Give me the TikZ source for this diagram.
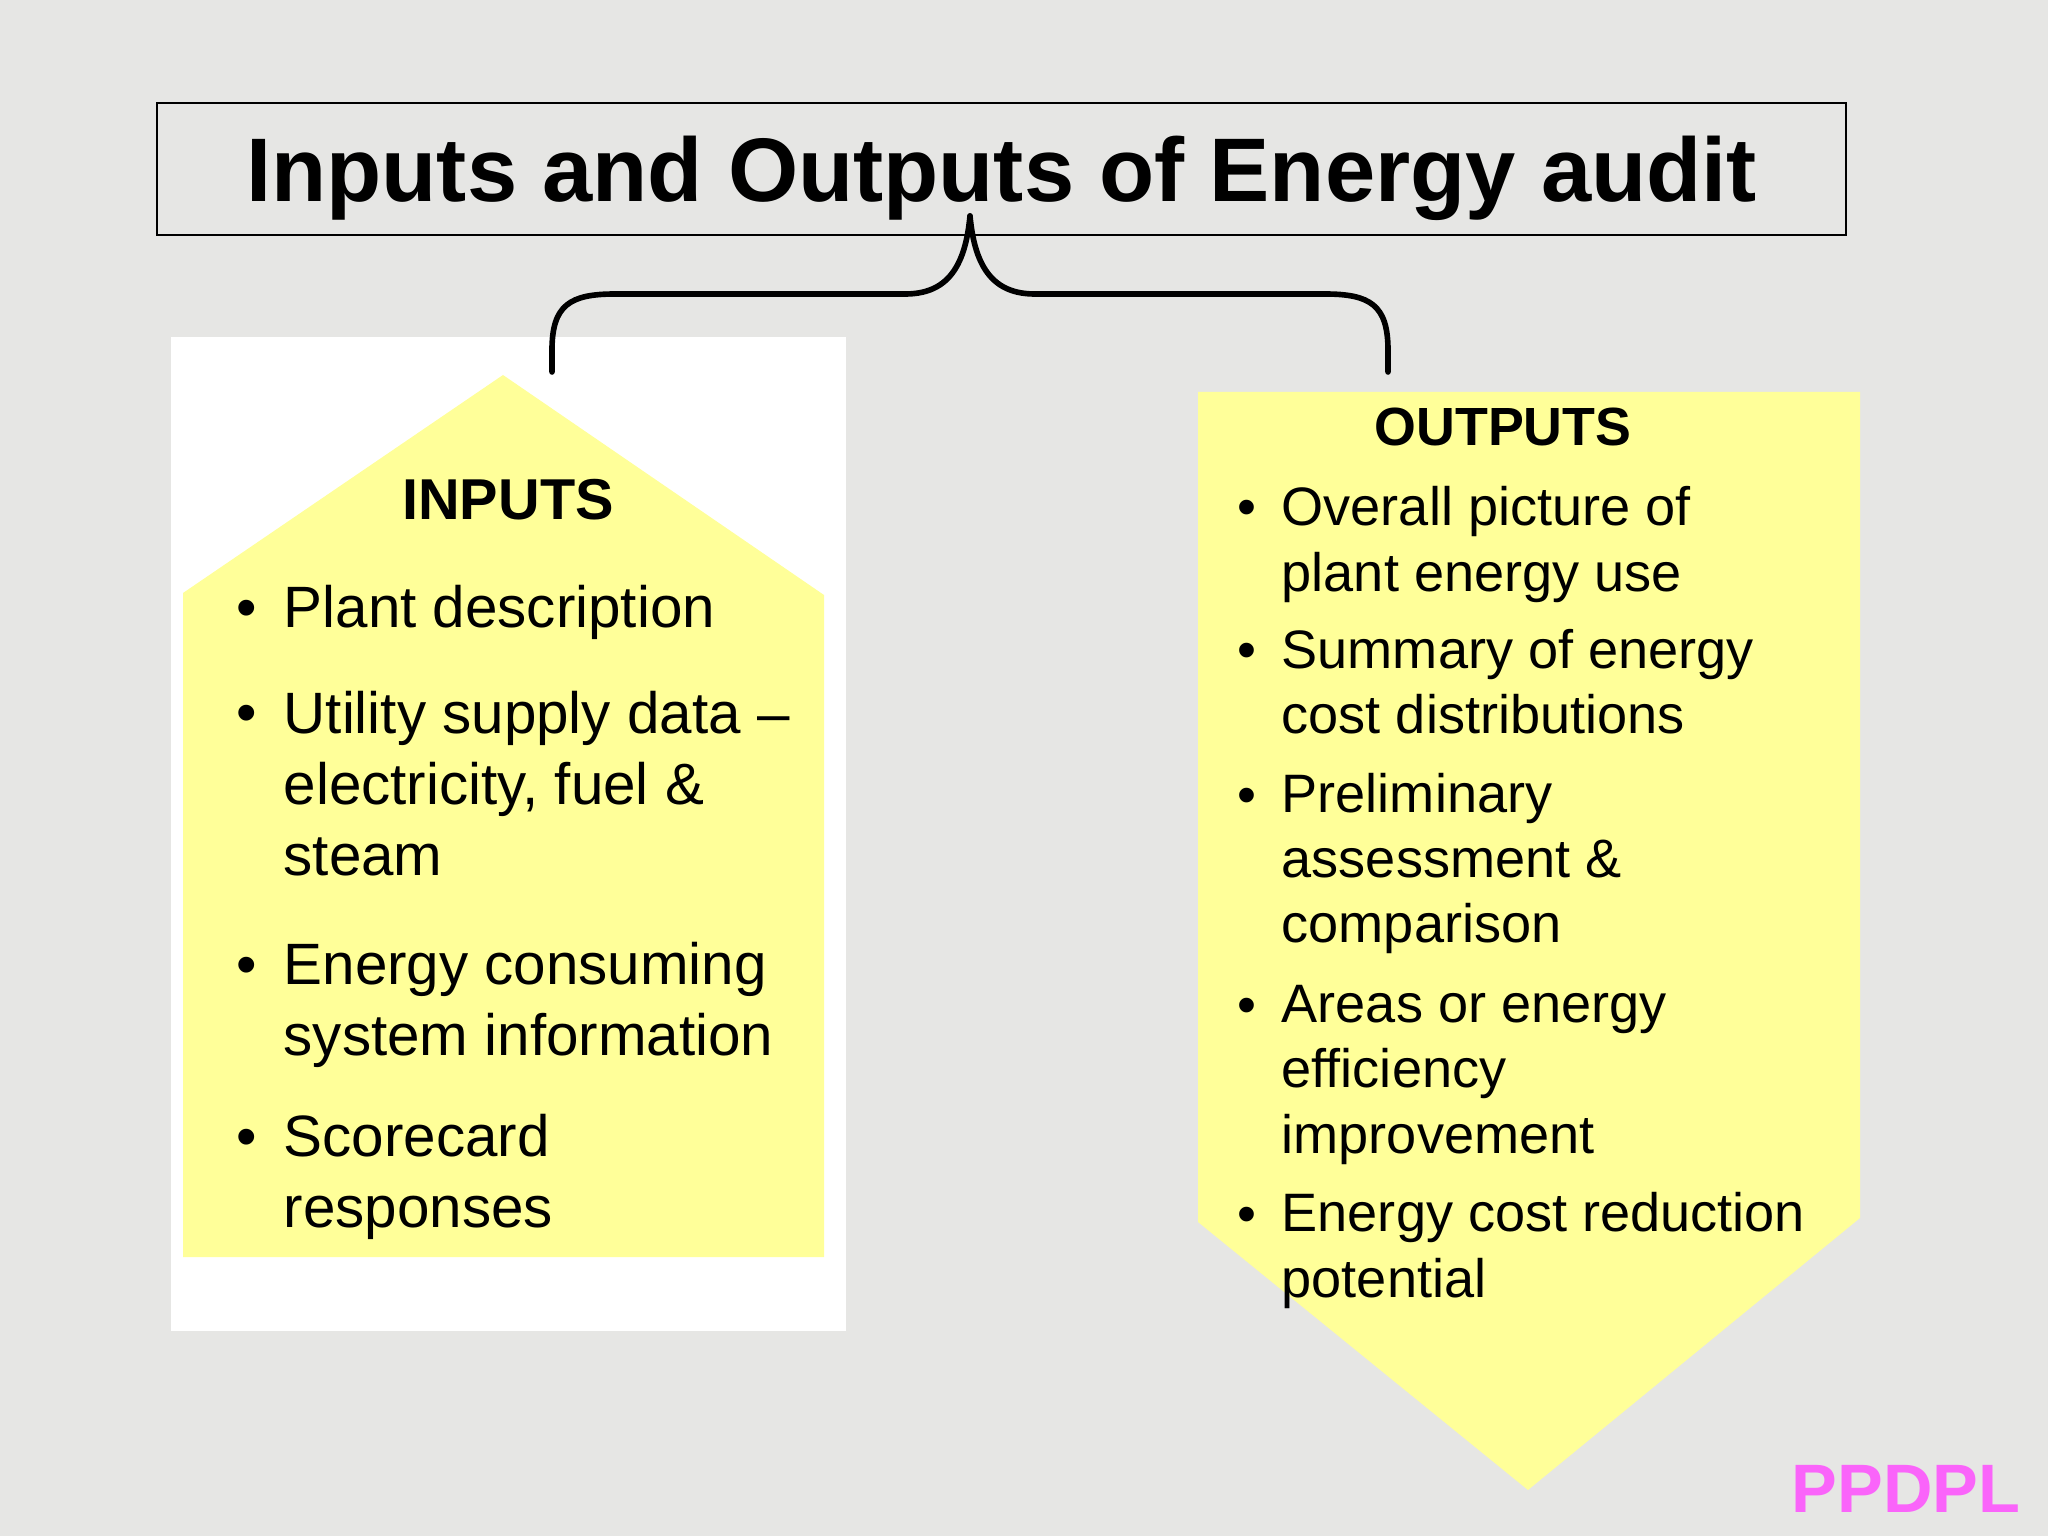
\documentclass[tikz,border=0pt]{standalone}
\usepackage{fontspec}
\setmainfont{Liberation Sans}
\usetikzlibrary{positioning}
\definecolor{slidegrey}{RGB}{230,230,228}
\definecolor{notepad}{RGB}{255,255,153}
\definecolor{tagpink}{RGB}{250,100,250}

\begin{document}
\begin{tikzpicture}[
  intext/.style={anchor=base west, align=left, inner sep=0pt, font=\fontsize{16.6}{20.2}\selectfont},
  outtext/.style={anchor=base west, align=left, inner sep=0pt, font=\fontsize{15.4}{18.5}\selectfont},
  head/.style={anchor=base, inner sep=0pt, font=\bfseries},
  brace/.style={line width=1.6pt, line cap=round}]
  % Page
  \useasboundingbox (0,0) rectangle (20.48,-15.36);
  \fill[slidegrey] (0,0) rectangle (20.48,-15.36);

  % Title
  \node[draw, line width=0.7pt, minimum width=16.89cm, minimum height=1.32cm,
        text height=18.4pt, text depth=0pt, font=\fontsize{25.7}{30}\bfseries\selectfont]
        (title) at (10.015,-1.69) {Inputs and Outputs of Energy audit};

  % Inputs panel
  \fill[white] (1.71,-3.37) rectangle (8.46,-13.31);
  \fill[notepad] (1.83,-12.57) -- (1.83,-5.93) -- (5.03,-3.75) -- (8.24,-5.95) -- (8.24,-12.57) -- cycle;
  \coordinate (in top) at (5.52,-3.72);
  \node[head, font=\fontsize{16.4}{20}\bfseries\selectfont] (inputs) at (5.08,-5.20) {INPUTS};

  % (multi-line nodes sit on their last line)
  \node[intext] (bi1) at (2.36,-6.28) {•};
  \node[intext] (i1) at (2.83,-6.28) {Plant description};
  \node[intext] (bi2) at (2.36,-7.33) {•};
  \node[intext] (i2) at (2.83,-8.75) {Utility supply data –\\electricity, fuel \&\\steam};
  \node[intext] (bi3) at (2.36,-9.84) {•};
  \node[intext] (i3) at (2.83,-10.55) {Energy consuming\\system information};
  \node[intext] (bi4) at (2.36,-11.56) {•};
  \node[intext] (i4) at (2.83,-12.27) {Scorecard\\responses};

  % Outputs panel
  \fill[notepad] (11.98,-3.92) -- (18.60,-3.92) -- (18.60,-12.18) -- (15.28,-14.90) -- (11.98,-12.22) -- cycle;
  \coordinate (out top) at (13.88,-3.72);
  \node[head, font=\fontsize{15.3}{19}\bfseries\selectfont] (outputs) at (15.03,-4.46) {OUTPUTS};

  \node[outtext] (bo1) at (12.37,-5.26) {•};
  \node[outtext] (o1) at (12.81,-5.91) {Overall picture of\\plant energy use};
  \node[outtext] (bo2) at (12.37,-6.69) {•};
  \node[outtext] (o2) at (12.81,-7.34) {Summary of energy\\cost distributions};
  \node[outtext] (bo3) at (12.37,-8.13) {•};
  \node[outtext] (o3) at (12.81,-9.43) {Preliminary\\assessment \&\\comparison};
  \node[outtext] (bo4) at (12.37,-10.23) {•};
  \node[outtext] (o4) at (12.81,-11.53) {Areas or energy\\efficiency\\improvement};
  \node[outtext] (bo5) at (12.37,-12.32) {•};
  \node[outtext] (o5) at (12.81,-12.97) {Energy cost reduction\\potential};

  % Brace from title to panels
  \coordinate (tip) at (9.70,-2.16);
  \draw[brace] (in top) -- (5.52,-3.50) .. controls (5.52,-3.05) and (5.70,-2.94) .. (6.15,-2.94)
    -- (9.05,-2.94) .. controls (9.45,-2.94) and (9.65,-2.70) .. (tip);
  \draw[brace] (tip) .. controls (9.75,-2.70) and (9.95,-2.94) .. (10.35,-2.94)
    -- (13.25,-2.94) .. controls (13.70,-2.94) and (13.88,-3.05) .. (13.88,-3.50) -- (out top);

  % Tag
  \node[anchor=base west, inner sep=0pt, text=tagpink, font=\fontsize{19.5}{24}\bfseries\selectfont]
    (tag) at (17.91,-15.12) {PPDPL};
\end{tikzpicture}
\end{document}
